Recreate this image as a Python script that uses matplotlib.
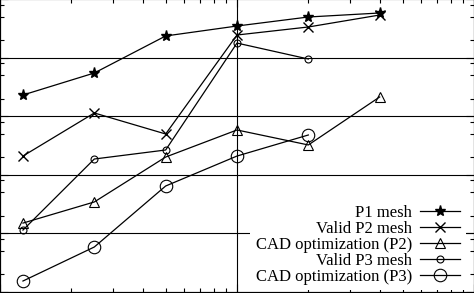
#import the libraries
import matplotlib
matplotlib.use('Agg')
import matplotlib.pyplot as plt
from matplotlib.ticker import LogLocator, NullFormatter

#data
x_all = [1.25, 2.5, 5, 10, 20, 40]
x_p3 = [1.25, 2.5, 5, 10, 20]

p1_mesh = [0.230, 0.546, 2.34, 3.46, 4.93, 5.77]
valid_p2 = [0.0209, 0.1135, 0.0497, 2.43, 3.33, 5.33]
cad_p2 = [0.00150, 0.00344, 0.0201, 0.0582, 0.0323, 0.213]
valid_p3 = [0.00114, 0.0186, 0.0265, 1.77, 0.946]
cad_p3 = [0.000154, 0.000586, 0.00644, 0.0209, 0.0478]

labels = ['P1 mesh', 'Valid P2 mesh', 'CAD optimization (P2)',
          'Valid P3 mesh', 'CAD optimization (P3)']

#create the figure
fig = plt.figure(figsize=(4.74, 2.93), dpi=100)
ax = fig.add_axes([0.0, 1/293, 1.0, 1.0])

ax.plot(x_all, p1_mesh, color='black', lw=0.9, marker='*', ms=8, label=labels[0])
ax.plot(x_all, valid_p2, color='black', lw=0.9, marker='x', ms=7, mew=1, label=labels[1])
ax.plot(x_all, cad_p2, color='black', lw=0.9, marker='^', ms=7, mfc='none', mew=0.8, label=labels[2])
ax.plot(x_p3, valid_p3, color='black', lw=0.9, marker='o', ms=5, mfc='none', mew=0.8, label=labels[3])
ax.plot(x_p3, cad_p3, color='black', lw=0.9, marker='o', ms=9, mfc='none', mew=0.8, label=labels[4])

#log axes
ax.set_xscale('log')
ax.set_yscale('log')
ax.set_xlim(1, 100)
ax.set_ylim(1e-4, 10)

ax.xaxis.set_major_locator(LogLocator(base=10))
ax.xaxis.set_minor_locator(LogLocator(base=10, subs=range(2, 10)))
ax.yaxis.set_major_locator(LogLocator(base=10))
ax.yaxis.set_minor_locator(LogLocator(base=10, subs=[2, 5, 8]))
ax.xaxis.set_major_formatter(NullFormatter())
ax.xaxis.set_minor_formatter(NullFormatter())
ax.yaxis.set_major_formatter(NullFormatter())
ax.yaxis.set_minor_formatter(NullFormatter())

ax.tick_params(which='both', direction='in', top=True, right=True, color='black', width=0.8)
ax.tick_params(which='major', length=6)
ax.tick_params(which='minor', length=3)

ax.grid(True, which='major', color='black', lw=0.8)
for s in ax.spines.values():
    s.set_color('black')
    s.set_linewidth(0.8)

#legend with the sample on the right
leg = ax.legend(loc='upper right', bbox_to_anchor=(0.983, 0.318), markerfirst=False,
                prop={'family': 'Liberation Serif', 'size': 12},
                handlelength=2.4, handletextpad=0.5, labelspacing=0.0,
                borderpad=0.35, borderaxespad=0, frameon=True, fancybox=False)
leg.get_frame().set_facecolor('white')
leg.get_frame().set_edgecolor('none')
leg.get_frame().set_alpha(1)

plt.savefig('out.png', dpi=100)
